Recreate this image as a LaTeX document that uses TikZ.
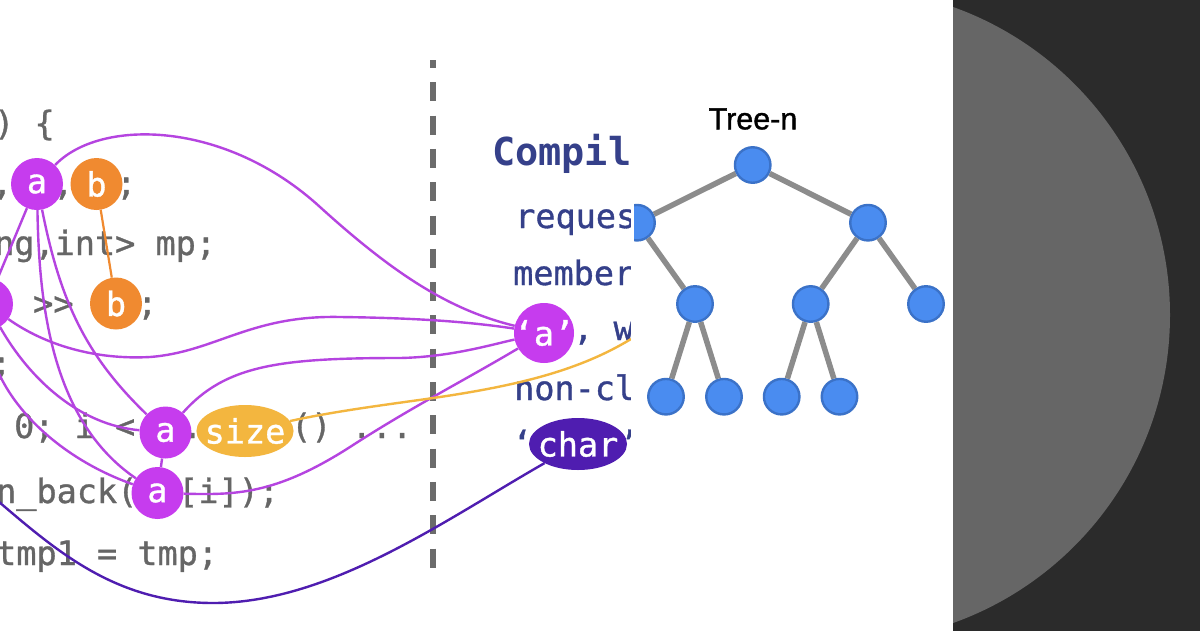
\documentclass[tikz,border=0pt]{standalone}
\usepackage{fontspec}
\setmainfont{Fira Sans}
\setmonofont[FakeBold=1,BoldFeatures={FakeBold=0}]{DejaVu Sans Mono}
\newfontfamily\arialfont[FakeBold=1.2]{Liberation Sans}
\usetikzlibrary{shapes.geometric}
\definecolor{codegray}{HTML}{666666}
\definecolor{navytext}{HTML}{35408A}
\definecolor{purp}{HTML}{C63CEE}
\definecolor{purpline}{HTML}{B544E0}
\definecolor{orng}{HTML}{F08A30}
\definecolor{yell}{HTML}{F3B63F}
\definecolor{indig}{HTML}{4F1DB0}
\definecolor{darkbg}{HTML}{2B2B2B}
\definecolor{moon}{HTML}{666666}
\definecolor{sepgray}{HTML}{6B6B6B}
\definecolor{bluefill}{HTML}{4A8CF0}
\definecolor{bluedraw}{HTML}{3B72C8}
\definecolor{edgegray}{HTML}{8C8C8C}
\tikzset{
  codetext/.style={anchor=base west,inner sep=0pt,text=codegray,font=\ttfamily\fontsize{33.5}{33.5}\selectfont},
  navytxt/.style={anchor=base west,inner sep=0pt,text=navytext,font=\ttfamily\fontsize{33.5}{33.5}\selectfont},
  navybold/.style={anchor=base west,inner sep=0pt,text=navytext,font=\ttfamily\bfseries\fontsize{38.5}{38.5}\selectfont},
  token/.style={circle,inner sep=0pt,minimum size=52pt,text=white,font=\ttfamily\fontsize{33.5}{33.5}\selectfont},
  purptok/.style={token,fill=purp},
  orngtok/.style={token,fill=orng},
  pill/.style={ellipse,inner xsep=-6pt,inner ysep=0pt,text=white,font=\ttfamily\fontsize{33.5}{33.5}\selectfont},
  pline/.style={draw=purpline,line width=2.4pt},
  treenode/.style={circle,inner sep=0pt,minimum size=35.5pt,fill=bluefill,draw=bluedraw,line width=2.4pt},
  treeedge/.style={draw=edgegray,line width=5.5pt},
}
\begin{document}
\begin{tikzpicture}[x=1pt,y=-1pt]
\useasboundingbox (0,0) rectangle (1200,630);
\clip (0,0) rectangle (1200,630);
% background
\fill[darkbg] (953,-5) rectangle (1205,635);
\fill[moon] (843,315) circle[radius=327];
\fill[white] (-5,-5) rectangle (953,640);
% code text
\node[codetext] (c1) at (-6,135) {) \{};
\node[codetext] (c2a) at (-8,195) {,};
\node[codetext] (c2b) at (53,195) {,};
\node[codetext] (c2c) at (116,195) {;};
\node[codetext] (c3) at (-6,255) {ng,int> mp;};
\node[codetext] (c4a) at (33,315) {>>};
\node[codetext] (c4b) at (137,315) {;};
\node[codetext] (c5) at (-9,375) {;};
\node[codetext] (c6a) at (14,438) {0; i <};
\node[codetext] (c6b) at (182,438) {.};
\node[codetext] (c6c) at (291,438) {() ...};
\node[codetext] (c7a) at (-4,503) {n\_back(};
\node[codetext] (c7b) at (178,503) {[i]);};
\node[codetext] (c8) at (-4,565) {tmp1 = tmp;};
% right text
\node[navybold] (t1) at (492,165) {Compil};
\node[navytxt] (t2) at (515,228) {reques};
\node[navytxt] (t3) at (513,285) {member};
\node[navytxt] (t4) at (573,340) {, w};
\node[navytxt] (t5) at (514,400) {non-cl};
\node[navytxt] (t6a) at (512,455) {‘};
\node[navytxt] (t6b) at (619,455) {’};
% separator
\coordinate (sepa) at (433,60);
\coordinate (sepb) at (433,570);
\draw[sepgray,line width=5.5pt,dash pattern=on 19pt off 14.3pt,dash phase=11pt] (sepa) -- (sepb);
% tokens
\node[purptok] (a1) at (37,184) {a};
\node[orngtok] (b1) at (96.5,184) {b};
\node[purptok] (a2) at (-13,304) {a};
\node[orngtok] (b2) at (116,303.5) {b};
\node[purptok] (a3) at (165.5,432.5) {a};
\node[purptok] (a4) at (157.5,493) {a};
\node[purptok,inner sep=-3pt,minimum size=60pt] (qa) at (544,333) {‘a’};
\node[pill,fill=yell,minimum width=97pt,minimum height=52pt] (size) at (245,431) {size};
\node[pill,fill=indig,minimum width=98pt,minimum height=52pt] (char) at (578,444) {char};
% connectors
\draw[pline] (a1) .. controls (100,118) and (225,120) .. (320,207) .. controls (395,275) and (450,310) .. (qa);
\draw[pline] (a1) -- (a2);
\draw[pline] (a1) .. controls (39,300) and (50,420) .. (a4);
\draw[pline] (a1) .. controls (60,300) and (85,355) .. (a3);
\draw[pline] (a2) .. controls (45,345) and (95,360) .. (150,357) .. controls (215,352) and (250,315) .. (340,317) .. controls (420,318) and (470,322) .. (qa);
\draw[pline] (a2) .. controls (30,380) and (80,425) .. (a3);
\draw[pline] (a2) .. controls (-10,390) and (50,455) .. (a4);
\draw[pline] (a3) .. controls (225,365) and (280,358) .. (400,358) .. controls (450,357) and (490,345) .. (qa);
\draw[pline] (a4) .. controls (235,495) and (275,495) .. (350,447) .. controls (410,408) and (465,380) .. (qa);
\draw[pline] (a3) -- (a4);
\draw[orng,line width=2.2pt] (b1) -- (b2);
\coordinate (yend) at (631,339);
\draw[yell,line width=2.4pt] (size) .. controls (340,410) and (400,403) .. (440,397) .. controls (520,385) and (580,370) .. (yend);
\coordinate (vdip) at (213,603);
\coordinate (vend) at (-15,490);
\draw[indig,line width=2.4pt] (char) .. controls (445,520) and (330,603) .. (vdip) .. controls (110,603) and (50,545) .. (vend);
% tree panel
\fill[white] (631,-5) rectangle (953,640);
\node[inner sep=0pt,text=black,font=\arialfont\fontsize{30.5}{30.5}\selectfont] (title) at (753,119) {Tree-n};
\begin{scope}
\clip (634,0) rectangle (953,630);
\node[treenode] (root) at (752.7,165) {};
\node[treenode] (l) at (637,222.7) {};
\node[treenode] (r) at (868,222.7) {};
\node[treenode] (ll) at (695,304) {};
\node[treenode] (rl) at (810.7,304) {};
\node[treenode] (rr) at (926,304) {};
\node[treenode] (n1) at (666,396.7) {};
\node[treenode] (n2) at (724,396.7) {};
\node[treenode] (n3) at (781.7,396.7) {};
\node[treenode] (n4) at (839.5,396.7) {};
\draw[treeedge] (root) -- (l);
\draw[treeedge] (root) -- (r);
\draw[treeedge] (l) -- (ll);
\draw[treeedge] (r) -- (rl);
\draw[treeedge] (r) -- (rr);
\draw[treeedge] (ll) -- (n1);
\draw[treeedge] (ll) -- (n2);
\draw[treeedge] (rl) -- (n3);
\draw[treeedge] (rl) -- (n4);
\end{scope}
\end{tikzpicture}
\end{document}
